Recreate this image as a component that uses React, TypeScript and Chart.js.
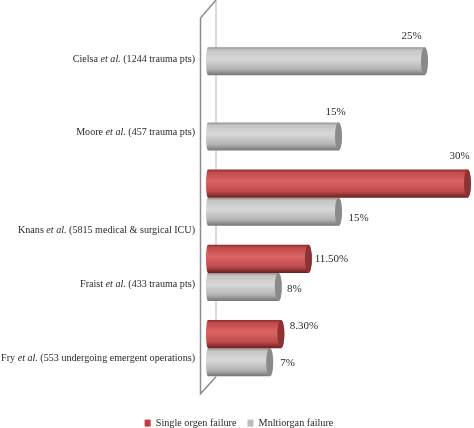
import React, { useEffect, useRef } from "react";
import { Chart, registerables } from "chart.js";

Chart.register(...registerables);

const categories = [
  "Cielsa et al. (1244 trauma pts)",
  "Moore et al. (457 trauma pts)",
  "Knans et al. (5815 medical & surgical ICU)",
  "Fraist et al. (433 trauma pts)",
  "Fry et al. (553 undergoing emergent operations)",
];
const singleOrganFailure = [null, null, 30, 11.5, 8.3];
const multiorganFailure = [25, 15, 15, 8, 7];
const singleLabels = ["", "", "30%", "11.50%", "8.30%"];
const multiLabels = ["25%", "15%", "15%", "8%", "7%"];

const FONT = '"Liberation Serif"';
const TEXT = "#2a2a2a";

// Presentation offsets, in pixels, from each category's position or bar end.
const categoryLabelDy = [12, 10, 33, 11, 10];
const singleLabelOffset = [[0, 0], [0, 0], [-11, -27], [20, 0], [20, -8]];
const multiLabelOffset = [[-16, -25], [-6, -24], [17, 6], [13, 2], [15, 1]];

const RED_STOPS: [number, string][] = [
  [0, "#8a2c2e"], [0.1, "#c04a4c"], [0.42, "#dc6463"], [0.78, "#bf4a4c"], [1, "#6a2022"],
];
const GRAY_STOPS: [number, string][] = [
  [0, "#8f8f8f"], [0.1, "#c4c4c4"], [0.42, "#d8d8d8"], [0.78, "#b4b4b4"], [1, "#757575"],
];
const CAPS = ["#8e3234", "#8a8a8a"];

const cylinders = {
  id: "cylinders",
  beforeDatasetDraw(chart: any, args: any) {
    const ctx = chart.ctx;
    const stops = args.index === 0 ? RED_STOPS : GRAY_STOPS;
    const rx = 3.5;
    args.meta.data.forEach((bar: any, i: number) => {
      const v = chart.data.datasets[args.index].data[i];
      if (v === null || v === undefined) return;
      const { x, y, height, base } = bar.getProps(["x", "y", "height", "base"], true);
      const left = base - 6.5;
      const right = x + 0.5;
      const top = y - height / 2;
      const ry = height / 2;
      const g = ctx.createLinearGradient(0, top, 0, top + height);
      stops.forEach(([o, c]) => g.addColorStop(o, c));
      ctx.save();
      ctx.fillStyle = g;
      ctx.beginPath();
      ctx.ellipse(left + 2, y, 2, ry, 0, Math.PI / 2, (3 * Math.PI) / 2);
      ctx.lineTo(right - rx, top);
      ctx.ellipse(right - rx, y, rx, ry, 0, -Math.PI / 2, Math.PI / 2);
      ctx.closePath();
      ctx.fill();
      ctx.fillStyle = CAPS[args.index];
      ctx.beginPath();
      ctx.ellipse(right - rx, y, rx, ry, 0, 0, Math.PI * 2);
      ctx.fill();
      ctx.restore();
    });
    return false;
  },
};

const walls = {
  id: "walls",
  beforeDatasetsDraw(chart: any) {
    const { ctx, chartArea: a, scales } = chart;
    const zero = scales.x.getPixelForValue(0);
    const front = zero - 12;
    const back = zero + 3.5;
    ctx.save();
    ctx.strokeStyle = "#cfcfcf";
    ctx.lineWidth = 1.5;
    ctx.beginPath();
    ctx.moveTo(back, a.top - 9.5);
    ctx.lineTo(back, a.bottom - 9);
    ctx.stroke();
    ctx.strokeStyle = "#8c8c8c";
    ctx.beginPath();
    ctx.moveTo(back, a.top - 9.5);
    ctx.lineTo(front, a.top + 8.5);
    ctx.lineTo(front, a.bottom + 8);
    ctx.lineTo(back, a.bottom - 9);
    ctx.stroke();
    ctx.restore();
  },
};

const annotations = {
  id: "annotations",
  afterDatasetsDraw(chart: any) {
    const { ctx, scales } = chart;
    ctx.save();
    ctx.fillStyle = TEXT;
    ctx.textBaseline = "middle";

    // Category labels with an italic "et al."
    categories.forEach((label, i) => {
      const y = scales.y.getPixelForValue(i) + categoryLabelDy[i];
      const [before, after] = label.split("et al.");
      const regular = `10.1px ${FONT}`;
      const italic = `italic 10.1px ${FONT}`;
      ctx.font = regular;
      const w1 = ctx.measureText(before).width;
      const w3 = ctx.measureText(after).width;
      ctx.font = italic;
      const w2 = ctx.measureText("et al.").width;
      let x = 195 - (w1 + w2 + w3);
      ctx.textAlign = "left";
      ctx.font = regular;
      ctx.fillText(before, x, y);
      x += w1;
      ctx.font = italic;
      ctx.fillText("et al.", x, y);
      x += w2;
      ctx.font = regular;
      ctx.fillText(after, x, y);
    });

    // Value labels
    ctx.font = `11px ${FONT}`;
    ctx.textAlign = "center";
    [
      [singleLabels, singleLabelOffset],
      [multiLabels, multiLabelOffset],
    ].forEach(([labels, offsets]: any, d: number) => {
      chart.getDatasetMeta(d).data.forEach((bar: any, i: number) => {
        if (!labels[i]) return;
        const p = bar.getProps(["x", "y"], true);
        ctx.fillText(labels[i], p.x + offsets[i][0], p.y + offsets[i][1]);
      });
    });
    ctx.restore();
  },
};

const legendPlacement = {
  id: "legendPlacement",
  afterLayout(chart: any) {
    const l = chart.legend;
    l.left = 0;
    l.right = 478;
    l.top = 407;
    l.bottom = 428;
  },
};

export default function App() {
  const ref = useRef<HTMLCanvasElement>(null);
  useEffect(() => {
    const chart = new Chart(ref.current!, {
      type: "bar",
      data: {
        labels: categories,
        datasets: [
          { label: "Single orgen failure", data: singleOrganFailure, backgroundColor: "#c23b3e" },
          { label: "Mnltiorgan failure", data: multiorganFailure, backgroundColor: "#bdbdbd" },
        ],
      } as any,
      options: {
        indexAxis: "y",
        responsive: false,
        animation: false,
        layout: { padding: { left: 212.5, right: 3.5, top: 9.5, bottom: 11 } },
        datasets: { bar: { categoryPercentage: 56 / 75, barPercentage: 1 } },
        scales: {
          x: { display: false, min: 0, max: 30 },
          y: { display: false },
        },
        plugins: {
          tooltip: { enabled: false },
          legend: {
            display: true,
            position: "bottom",
            labels: {
              boxWidth: 6,
              boxHeight: 7,
              padding: 11,
              color: TEXT,
              font: { family: FONT, size: 10.2 },
            },
          },
        },
      } as any,
      plugins: [walls, cylinders, annotations, legendPlacement],
    });
    return () => chart.destroy();
  }, []);
  return (
    <canvas
      ref={ref}
      width={474}
      height={428}
      style={{ position: "absolute", left: 0, top: 0, width: 474, height: 428, background: "#fff" }}
    />
  );
}
